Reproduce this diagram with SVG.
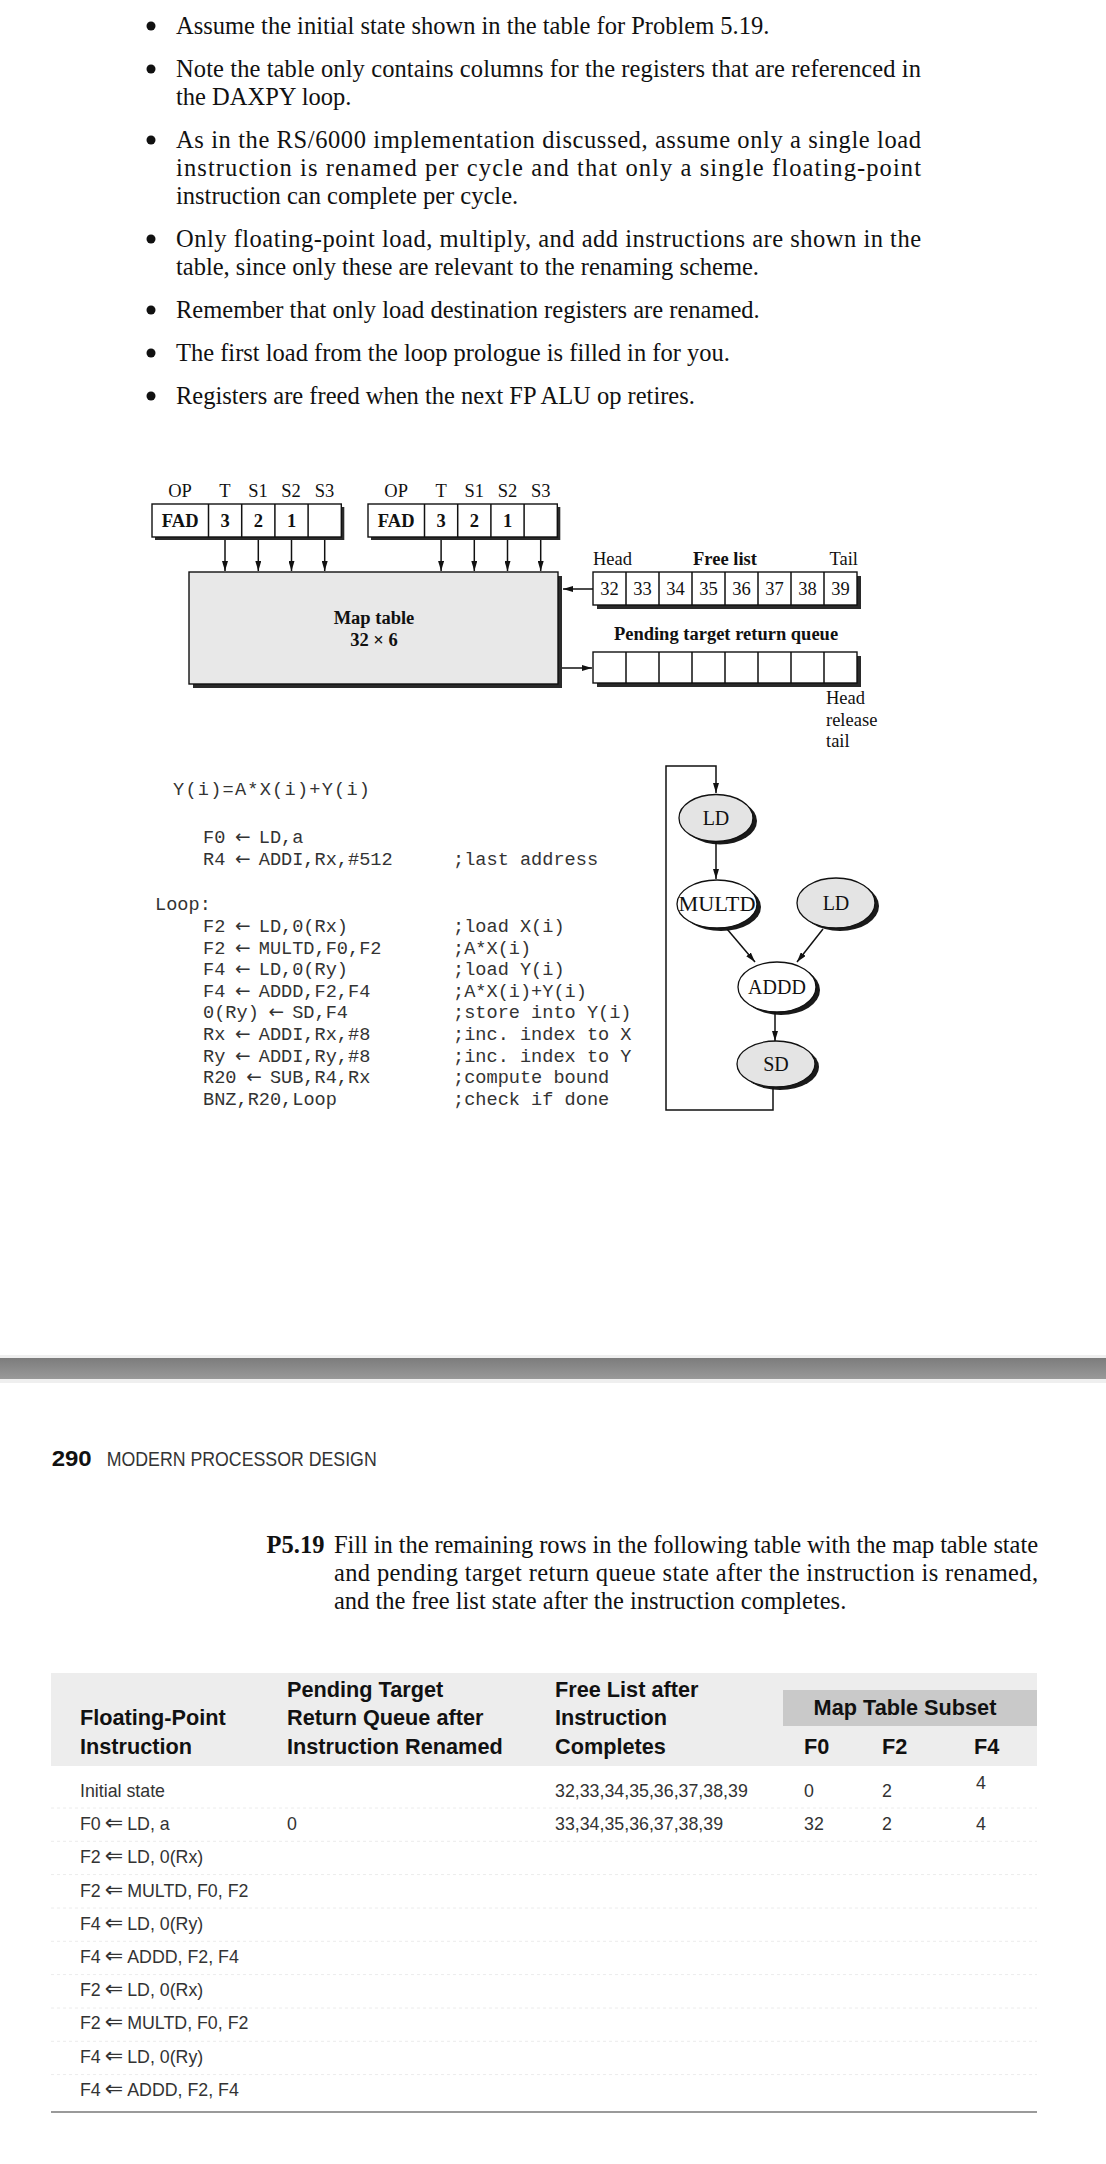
<svg xmlns="http://www.w3.org/2000/svg" width="1106" height="2164" viewBox="0 0 1106 2164">
<style>
.tb{font-family:"Liberation Serif","Times New Roman",serif;font-size:24.5px;fill:#111}
.ts{font-family:"Liberation Serif","Times New Roman",serif;font-size:18.5px;fill:#111}
.tsb{font-family:"Liberation Serif","Times New Roman",serif;font-size:18.5px;font-weight:bold;fill:#111}
.te{font-family:"Liberation Serif","Times New Roman",serif;font-size:20px;fill:#111;text-anchor:middle}
.mono{font-family:"Liberation Mono","DejaVu Sans Mono",monospace;font-size:18.6px;fill:#333}
.ar{font-family:"DejaVu Sans",sans-serif}
.dar{font-family:"DejaVu Sans",sans-serif;font-size:22px}
.th{font-family:"Liberation Sans","DejaVu Sans",sans-serif;font-size:21.7px;font-weight:bold;fill:#111}
.tr{font-family:"Liberation Sans","DejaVu Sans",sans-serif;font-size:17.8px;fill:#333}
.box{fill:#fff;stroke:#111;stroke-width:1.4}
.shd{fill:#2a2a2a}
.ln{stroke:#111;stroke-width:1.5;fill:none}
.sep{stroke:#ececec;stroke-width:1;stroke-dasharray:3 3}
.mid{text-anchor:middle}
</style>
<defs>
<marker id="ah" viewBox="0 0 10 6" refX="10" refY="3" markerWidth="10" markerHeight="6" markerUnits="userSpaceOnUse" orient="auto">
<path d="M0,0 L10,3 L0,6 z" fill="#111"/>
</marker>
<linearGradient id="bar" x1="0" y1="0" x2="0" y2="1">
<stop offset="0" stop-color="#7c7c7c"/>
<stop offset="1" stop-color="#999"/>
</linearGradient>
</defs>
<rect width="1106" height="2164" fill="#fff"/>

<g id="bullets">
<circle cx="151" cy="26" r="4.5" fill="#111"/>
<text class="tb" x="176" y="34">Assume the initial state shown in the table for Problem 5.19.</text>
<circle cx="151" cy="69" r="4.5" fill="#111"/>
<text class="tb" x="176" y="77" textLength="745" lengthAdjust="spacing">Note the table only contains columns for the registers that are referenced in</text>
<text class="tb" x="176" y="105">the DAXPY loop.</text>
<circle cx="151" cy="140" r="4.5" fill="#111"/>
<text class="tb" x="176" y="148" textLength="745" lengthAdjust="spacing">As in the RS/6000 implementation discussed, assume only a single load</text>
<text class="tb" x="176" y="176" textLength="745" lengthAdjust="spacing">instruction is renamed per cycle and that only a single floating-point</text>
<text class="tb" x="176" y="204">instruction can complete per cycle.</text>
<circle cx="151" cy="239" r="4.5" fill="#111"/>
<text class="tb" x="176" y="247" textLength="745" lengthAdjust="spacing">Only floating-point load, multiply, and add instructions are shown in the</text>
<text class="tb" x="176" y="275">table, since only these are relevant to the renaming scheme.</text>
<circle cx="151" cy="310" r="4.5" fill="#111"/>
<text class="tb" x="176" y="318">Remember that only load destination registers are renamed.</text>
<circle cx="151" cy="353" r="4.5" fill="#111"/>
<text class="tb" x="176" y="361">The first load from the loop prologue is filled in for you.</text>
<circle cx="151" cy="396" r="4.5" fill="#111"/>
<text class="tb" x="176" y="404">Registers are freed when the next FP ALU op retires.</text>
</g>

<g id="reg-left">
<text class="ts mid" x="180" y="497">OP</text>
<text class="ts mid" x="225" y="497">T</text>
<text class="ts mid" x="258" y="497">S1</text>
<text class="ts mid" x="291" y="497">S2</text>
<text class="ts mid" x="324.5" y="497">S3</text>
<rect class="shd" x="155" y="507" width="189.3" height="33"/>
<rect class="box" x="152" y="504" width="189.3" height="33"/>
<path class="ln" d="M208.5,504V537M241.7,504V537M274.9,504V537M308.1,504V537" stroke-width="1.2"/>
<text class="tsb mid" x="180.2" y="527">FAD</text>
<text class="tsb mid" x="225.1" y="527">3</text>
<text class="tsb mid" x="258.3" y="527">2</text>
<text class="tsb mid" x="291.5" y="527">1</text>
</g>

<g id="reg-right">
<text class="ts mid" x="396.2" y="497">OP</text>
<text class="ts mid" x="441.1" y="497">T</text>
<text class="ts mid" x="474.3" y="497">S1</text>
<text class="ts mid" x="507.5" y="497">S2</text>
<text class="ts mid" x="540.7" y="497">S3</text>
<rect class="shd" x="371" y="507" width="189.3" height="33"/>
<rect class="box" x="368" y="504" width="189.3" height="33"/>
<path class="ln" d="M424.5,504V537M457.7,504V537M490.9,504V537M524.1,504V537" stroke-width="1.2"/>
<text class="tsb mid" x="396.2" y="527">FAD</text>
<text class="tsb mid" x="441.1" y="527">3</text>
<text class="tsb mid" x="474.3" y="527">2</text>
<text class="tsb mid" x="507.5" y="527">1</text>
</g>

<g id="map-table">
<rect class="shd" x="193" y="576" width="369" height="112"/>
<rect x="189" y="572" width="369" height="112" fill="#e8e8e8" stroke="#111" stroke-width="1.4"/>
<text class="tsb mid" x="374" y="624">Map table</text>
<text class="tsb mid" x="374" y="645.5">32 × 6</text>
</g>

<g id="free-list">
<text class="ts" x="593" y="565">Head</text>
<text class="tsb mid" x="725" y="565">Free list</text>
<text class="ts" x="858" y="565" text-anchor="end">Tail</text>
<rect class="shd" x="597" y="576" width="264" height="33"/>
<rect class="box" x="593" y="572" width="264" height="33"/>
<path class="ln" d="M626,572V605M659,572V605M692,572V605M725,572V605M758,572V605M791,572V605M824,572V605" stroke-width="1.2"/>
<text class="ts mid" x="609.5" y="595">32</text>
<text class="ts mid" x="642.5" y="595">33</text>
<text class="ts mid" x="675.5" y="595">34</text>
<text class="ts mid" x="708.5" y="595">35</text>
<text class="ts mid" x="741.5" y="595">36</text>
<text class="ts mid" x="774.5" y="595">37</text>
<text class="ts mid" x="807.5" y="595">38</text>
<text class="ts mid" x="840.5" y="595">39</text>
</g>

<g id="ptrq">
<text class="tsb mid" x="726" y="640">Pending target return queue</text>
<rect class="shd" x="597" y="656" width="264" height="31"/>
<rect class="box" x="593" y="652" width="264" height="31"/>
<path class="ln" d="M626,652V683M659,652V683M692,652V683M725,652V683M758,652V683M791,652V683M824,652V683" stroke-width="1.2"/>
<text class="ts" x="826" y="704">Head</text>
<text class="ts" x="826" y="725.5">release</text>
<text class="ts" x="826" y="747">tail</text>
</g>

<g id="code">
<text class="mono" x="173" y="795" textLength="197" lengthAdjust="spacing">Y(i)=A*X(i)+Y(i)</text>
<text class="mono" x="203" y="843">F0 <tspan class="ar" dx="-1.5">←</tspan><tspan dx="-3"> LD,a</tspan></text>
<text class="mono" x="203" y="865">R4 <tspan class="ar" dx="-1.5">←</tspan><tspan dx="-3"> ADDI,Rx,#512</tspan></text>
<text class="mono" x="453" y="865">;last address</text>
<text class="mono" x="155" y="910">Loop:</text>
<text class="mono" x="203" y="932">F2 <tspan class="ar" dx="-1.5">←</tspan><tspan dx="-3"> LD,0(Rx)</tspan></text>
<text class="mono" x="203" y="953.6">F2 <tspan class="ar" dx="-1.5">←</tspan><tspan dx="-3"> MULTD,F0,F2</tspan></text>
<text class="mono" x="203" y="975.2">F4 <tspan class="ar" dx="-1.5">←</tspan><tspan dx="-3"> LD,0(Ry)</tspan></text>
<text class="mono" x="203" y="996.8">F4 <tspan class="ar" dx="-1.5">←</tspan><tspan dx="-3"> ADDD,F2,F4</tspan></text>
<text class="mono" x="203" y="1018.4">0(Ry) <tspan class="ar" dx="-1.5">←</tspan><tspan dx="-3"> SD,F4</tspan></text>
<text class="mono" x="203" y="1040">Rx <tspan class="ar" dx="-1.5">←</tspan><tspan dx="-3"> ADDI,Rx,#8</tspan></text>
<text class="mono" x="203" y="1061.6">Ry <tspan class="ar" dx="-1.5">←</tspan><tspan dx="-3"> ADDI,Ry,#8</tspan></text>
<text class="mono" x="203" y="1083.2">R20 <tspan class="ar" dx="-1.5">←</tspan><tspan dx="-3"> SUB,R4,Rx</tspan></text>
<text class="mono" x="203" y="1104.8">BNZ,R20,Loop</text>
<text class="mono" x="453" y="932">;load X(i)</text>
<text class="mono" x="453" y="953.6">;A*X(i)</text>
<text class="mono" x="453" y="975.2">;load Y(i)</text>
<text class="mono" x="453" y="996.8">;A*X(i)+Y(i)</text>
<text class="mono" x="453" y="1018.4">;store into Y(i)</text>
<text class="mono" x="453" y="1040">;inc. index to X</text>
<text class="mono" x="453" y="1061.6">;inc. index to Y</text>
<text class="mono" x="453" y="1083.2">;compute bound</text>
<text class="mono" x="453" y="1104.8">;check if done</text>
</g>

<g id="node-ld1">
<ellipse cx="720" cy="821" rx="37" ry="23.5" fill="#1a1a1a"/>
<ellipse cx="716" cy="818" rx="37" ry="23.5" fill="#e4e4e4" stroke="#111" stroke-width="1.3"/>
<text class="te" x="716" y="825">LD</text>
</g>
<g id="node-multd">
<ellipse cx="721" cy="907" rx="40" ry="24" fill="#1a1a1a"/>
<ellipse cx="717" cy="904" rx="40" ry="24" fill="#fff" stroke="#111" stroke-width="1.3"/>
<text class="te" x="717" y="911" textLength="77" lengthAdjust="spacingAndGlyphs">MULTD</text>
</g>
<g id="node-ld2">
<ellipse cx="840" cy="906" rx="39" ry="25" fill="#1a1a1a"/>
<ellipse cx="836" cy="903" rx="39" ry="25" fill="#e4e4e4" stroke="#111" stroke-width="1.3"/>
<text class="te" x="836" y="910">LD</text>
</g>
<g id="node-addd">
<ellipse cx="781" cy="990" rx="39" ry="25" fill="#1a1a1a"/>
<ellipse cx="777" cy="987" rx="39" ry="25" fill="#fff" stroke="#111" stroke-width="1.3"/>
<text class="te" x="777" y="994">ADDD</text>
</g>
<g id="node-sd">
<ellipse cx="780" cy="1067" rx="39" ry="23" fill="#1a1a1a"/>
<ellipse cx="776" cy="1064" rx="39" ry="23" fill="#e4e4e4" stroke="#111" stroke-width="1.3"/>
<text class="te" x="776" y="1071">SD</text>
</g>

<g id="connectors">
<line class="ln" x1="225" y1="540" x2="225" y2="571" marker-end="url(#ah)"/>
<line class="ln" x1="258.3" y1="540" x2="258.3" y2="571" marker-end="url(#ah)"/>
<line class="ln" x1="291.5" y1="540" x2="291.5" y2="571" marker-end="url(#ah)"/>
<line class="ln" x1="324.7" y1="540" x2="324.7" y2="571" marker-end="url(#ah)"/>
<line class="ln" x1="441.1" y1="540" x2="441.1" y2="571" marker-end="url(#ah)"/>
<line class="ln" x1="474.3" y1="540" x2="474.3" y2="571" marker-end="url(#ah)"/>
<line class="ln" x1="507.5" y1="540" x2="507.5" y2="571" marker-end="url(#ah)"/>
<line class="ln" x1="540.7" y1="540" x2="540.7" y2="571" marker-end="url(#ah)"/>
<line class="ln" x1="593" y1="589" x2="563" y2="589" marker-end="url(#ah)"/>
<line class="ln" x1="562" y1="668" x2="592" y2="668" marker-end="url(#ah)"/>
<polyline class="ln" points="773,1087 773,1110 666,1110 666,766 716,766 716,793" marker-end="url(#ah)"/>
<line class="ln" x1="716" y1="842" x2="716" y2="879" marker-end="url(#ah)"/>
<line class="ln" x1="727" y1="929" x2="755" y2="962" marker-end="url(#ah)"/>
<line class="ln" x1="823" y1="929" x2="797" y2="962" marker-end="url(#ah)"/>
<line class="ln" x1="775" y1="1012" x2="775" y2="1041" marker-end="url(#ah)"/>
</g>

<g id="page-break">
<rect x="0" y="1355" width="1106" height="28" fill="#efefef"/>
<rect x="0" y="1358" width="1106" height="21" fill="url(#bar)"/>
</g>

<g id="page-header">
<text x="51.7" y="1466" font-family="Liberation Sans, DejaVu Sans, sans-serif" font-size="22" font-weight="bold" fill="#111" textLength="40" lengthAdjust="spacingAndGlyphs">290</text>
<text x="106.7" y="1466" font-family="Liberation Sans, DejaVu Sans, sans-serif" font-size="20" fill="#333" textLength="270" lengthAdjust="spacingAndGlyphs">MODERN PROCESSOR DESIGN</text>
</g>

<g id="problem">
<text class="tb" x="266.6" y="1553" font-weight="bold">P5.19</text>
<text class="tb" x="334" y="1553" textLength="704" lengthAdjust="spacing">Fill in the remaining rows in the following table with the map table state</text>
<text class="tb" x="334" y="1581" textLength="704" lengthAdjust="spacing">and pending target return queue state after the instruction is renamed,</text>
<text class="tb" x="334" y="1609">and the free list state after the instruction completes.</text>
</g>

<g id="table">
<rect x="51" y="1673" width="986" height="93" fill="#ededed"/>
<rect x="783" y="1690" width="254" height="36" fill="#c9c9c9"/>
<text class="th" x="80" y="1725">Floating-Point</text>
<text class="th" x="80" y="1754">Instruction</text>
<text class="th" x="287" y="1697">Pending Target</text>
<text class="th" x="287" y="1725">Return Queue after</text>
<text class="th" x="287" y="1754">Instruction Renamed</text>
<text class="th" x="555" y="1697">Free List after</text>
<text class="th" x="555" y="1725">Instruction</text>
<text class="th" x="555" y="1754">Completes</text>
<text class="th mid" x="905" y="1715">Map Table Subset</text>
<text class="th" x="804" y="1754">F0</text>
<text class="th" x="882" y="1754">F2</text>
<text class="th" x="974" y="1754">F4</text>

<path class="sep" d="M51,1808H1037M51,1841.3H1037M51,1874.6H1037M51,1908H1037M51,1941.3H1037M51,1974.6H1037M51,2008H1037M51,2041.3H1037M51,2074.6H1037"/>

<text class="tr" x="80" y="1797">Initial state</text>
<text class="tr" x="555" y="1797">32,33,34,35,36,37,38,39</text>
<text class="tr" x="804" y="1797">0</text>
<text class="tr" x="882" y="1797">2</text>
<text class="tr" x="976" y="1789">4</text>

<text class="tr" x="80" y="1830.2">F0<tspan class="dar" dx="4">⇐</tspan><tspan dx="4">LD, a</tspan></text>
<text class="tr" x="287" y="1830.2">0</text>
<text class="tr" x="555" y="1830.2">33,34,35,36,37,38,39</text>
<text class="tr" x="804" y="1830.2">32</text>
<text class="tr" x="882" y="1830.2">2</text>
<text class="tr" x="976" y="1830.2">4</text>

<text class="tr" x="80" y="1863.4">F2<tspan class="dar" dx="4">⇐</tspan><tspan dx="4">LD, 0(Rx)</tspan></text>
<text class="tr" x="80" y="1896.6">F2<tspan class="dar" dx="4">⇐</tspan><tspan dx="4">MULTD, F0, F2</tspan></text>
<text class="tr" x="80" y="1929.8">F4<tspan class="dar" dx="4">⇐</tspan><tspan dx="4">LD, 0(Ry)</tspan></text>
<text class="tr" x="80" y="1963">F4<tspan class="dar" dx="4">⇐</tspan><tspan dx="4">ADDD, F2, F4</tspan></text>
<text class="tr" x="80" y="1996.2">F2<tspan class="dar" dx="4">⇐</tspan><tspan dx="4">LD, 0(Rx)</tspan></text>
<text class="tr" x="80" y="2029.4">F2<tspan class="dar" dx="4">⇐</tspan><tspan dx="4">MULTD, F0, F2</tspan></text>
<text class="tr" x="80" y="2062.6">F4<tspan class="dar" dx="4">⇐</tspan><tspan dx="4">LD, 0(Ry)</tspan></text>
<text class="tr" x="80" y="2095.8">F4<tspan class="dar" dx="4">⇐</tspan><tspan dx="4">ADDD, F2, F4</tspan></text>
<line x1="51" y1="2112" x2="1037" y2="2112" stroke="#9a9a9a" stroke-width="2"/>
</g>
</svg>
